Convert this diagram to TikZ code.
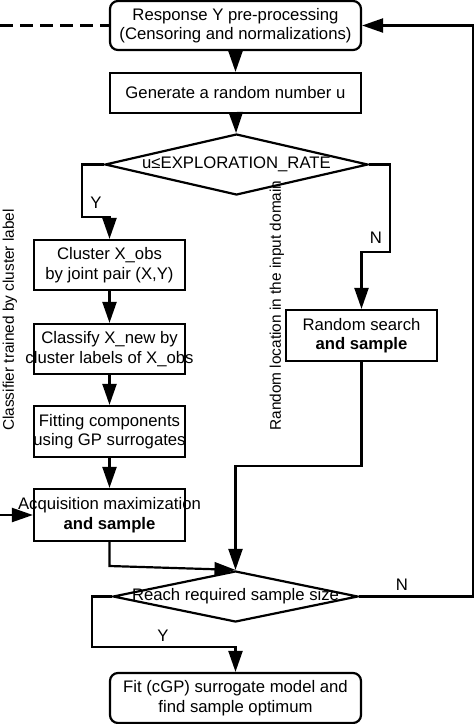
\documentclass[tikz,border=0pt]{standalone}
\usepackage{fontspec}
\setmainfont{Liberation Sans}
\usetikzlibrary{arrows.meta,shapes.geometric}
\newcommand{\zw}[1]{\makebox[0pt]{#1}}
\begin{document}
\begin{tikzpicture}[x=1pt,y=-1pt,
  every node/.style={font=\fontsize{16.7}{19.5}\selectfont, text=black},
  proc/.style={draw, line width=2.2pt, minimum width=151pt, minimum height=50pt, inner sep=0pt, align=center},
  wide/.style={proc, minimum width=251pt},
  rbox/.style={wide, rounded corners=8pt},
  dec/.style={draw, diamond, line width=2.2pt, inner sep=0pt},
  conn/.style={line width=2.2pt, -{Triangle[length=21pt,width=14pt]}},
  plain/.style={line width=2.2pt},
  yn/.style={inner sep=0pt},
  vlab/.style={rotate=90, inner sep=0pt, font=\fontsize{15.4}{18}\selectfont},
]
\useasboundingbox (0,0) rectangle (474,724);

\node[rbox, minimum height=49pt] (resp) at (235.5,25.5) {Response Y pre-processing\\(Censoring and normalizations)};
\node[wide, minimum height=40pt] (gen) at (235.5,93) {Generate a random number u};
\node[dec, minimum width=263pt, minimum height=61pt, label={[yn]center:u≤EXPLORATION\_RATE}] (d1) at (236.5,164.5) {};
\node[proc] (clus) at (109.5,265) {\zw{Cluster X\_obs}\\\zw{by joint pair (X,Y)}};
\node[proc] (cls) at (109.5,349) {\zw{Classify X\_new by}\\\zw{cluster labels of X\_obs}};
\node[proc, minimum height=51pt] (fit) at (109.5,431.5) {\zw{Fitting components}\\\zw{using GP surrogates}};
\node[proc, minimum height=52pt] (acq) at (109.5,515) {\zw{Acquisition maximization}\\\zw{\textbf{and sample}}};
\node[proc, minimum height=51pt] (rs) at (361.5,335.5) {\zw{Random search}\\\zw{\textbf{and sample}}};
\node[dec, minimum width=245pt, minimum height=51pt, label={[yn]center:Reach required sample size}] (d2) at (235.5,596.5) {};
\node[rbox, minimum height=50pt] (fin) at (235.5,698) {Fit (cGP) surrogate model and\\find sample optimum};

\node[vlab] (cl) at (10,320) {Classifier trained by cluster label};
\node[vlab] (rl) at (277,305.5) {Random location in the input domain};

\node[yn] (y1) at (96,203) {Y};
\node[yn] (n1) at (376,238) {N};
\node[yn] (n2) at (402,585) {N};
\node[yn] (y2) at (163,636) {Y};

\coordinate (dl) at (0,25.5);
\coordinate (al) at (0,515);

\draw[conn] (resp) -- (gen);
\draw[conn] (gen) -- (d1);
\draw[conn] (d1.west) -- (82,164.5) -- (82,217) -- (109.5,217) -- (clus.north);
\draw[conn] (d1.east) -- (390,164.5) -- (390,252) -- (361.5,252) -- (rs.north);
\draw[conn] (clus) -- (cls);
\draw[conn] (cls) -- (fit);
\draw[conn] (fit) -- (acq);
\draw[conn] (acq.south) -- (109.5,566) -- (d2.north);
\draw[conn] (rs.south) -- (361.5,466) -- (235.5,466) -- (d2.north);
\draw[conn] (d2.east) -- (473,596.5) -- (473,25.5) -- (resp.east);
\draw[conn] (d2.west) -- (92,596.5) -- (92,647) -- (235.5,647) -- (fin.north);
\draw[plain, dash pattern=on 13pt off 7pt] (dl) -- (resp.west);
\draw[conn] (al) -- (acq.west);
\end{tikzpicture}
\end{document}
